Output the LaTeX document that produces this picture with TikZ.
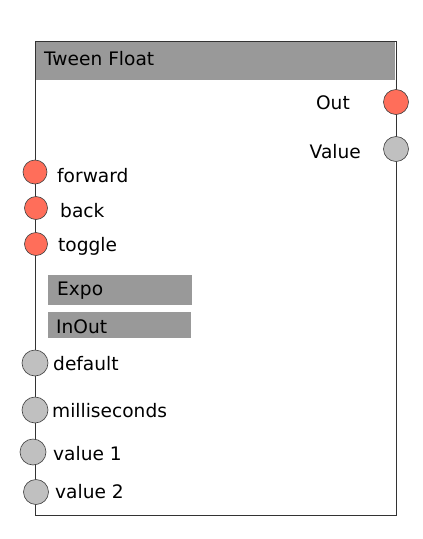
\documentclass[tikz,border=0pt]{standalone}
\usepackage{fontspec}
\setmainfont{DejaVu Sans}
\definecolor{portred}{HTML}{FF6E5A}
\definecolor{portgray}{HTML}{C0C0C0}
\definecolor{bargray}{HTML}{999999}
\begin{document}
\begin{tikzpicture}[x=1pt,y=-1pt,
  lbl/.style={font=\fontsize{18.6}{21}\selectfont, inner sep=0pt},
  porto/.style={circle, draw=black!75, fill=portred, line width=0.6pt, minimum size=25pt, inner sep=0pt},
  portg/.style={circle, draw=black!75, fill=portgray, line width=0.6pt, minimum size=25pt, inner sep=0pt},
  bar/.style={fill=bargray, draw=none, inner sep=0pt, anchor=north west}]
\useasboundingbox (0,0) rectangle (423,539);
\fill[white] (0,0) rectangle (423,539);
% main box
\node[draw=black!80, line width=0.8pt, minimum width=361pt, minimum height=474pt, anchor=north west, inner sep=0pt] (box) at (35,41) {};
\node[bar, minimum width=359pt, minimum height=38pt] (title) at (36,42) {};
\node[lbl, anchor=west] (titletxt) at (44,59) {Tween Float};
% right ports
\node[porto] (out) at (396,102) {};
\node[portg] (value) at (396,149) {};
\node[lbl, anchor=east] (outl) at (350,103) {Out};
\node[lbl, anchor=east] (valuel) at (361,152) {Value};
% left ports
\node[porto, minimum size=24pt] (fwd) at (35,172) {};
\node[porto, minimum size=23pt] (back) at (36,208) {};
\node[porto, minimum size=23pt] (tog) at (36,244) {};
\node[lbl, anchor=west] (fwdl) at (57,176) {forward};
\node[lbl, anchor=west] (backl) at (60,211) {back};
\node[lbl, anchor=west] (togl) at (58,246) {toggle};
% enum bars
\node[bar, minimum width=144pt, minimum height=30pt] (expo) at (48,275) {};
\node[lbl, anchor=west] (expol) at (57,291) {Expo};
\node[bar, minimum width=143pt, minimum height=26pt] (inout) at (48,312) {};
\node[lbl, anchor=west] (inoutl) at (56,327) {InOut};
% value ports
\node[portg, minimum size=26pt] (def) at (35,363) {};
\node[portg, minimum size=26pt] (ms) at (35,410) {};
\node[portg, minimum size=26pt] (v1) at (33,452) {};
\node[portg, minimum size=25pt] (v2) at (36,492) {};
\node[lbl, anchor=west] (defl) at (53,364) {default};
\node[lbl, anchor=west] (msl) at (52,411) {milliseconds};
\node[lbl, anchor=west] (v1l) at (53,454) {value 1};
\node[lbl, anchor=west] (v2l) at (55,492) {value 2};
\end{tikzpicture}
\end{document}
